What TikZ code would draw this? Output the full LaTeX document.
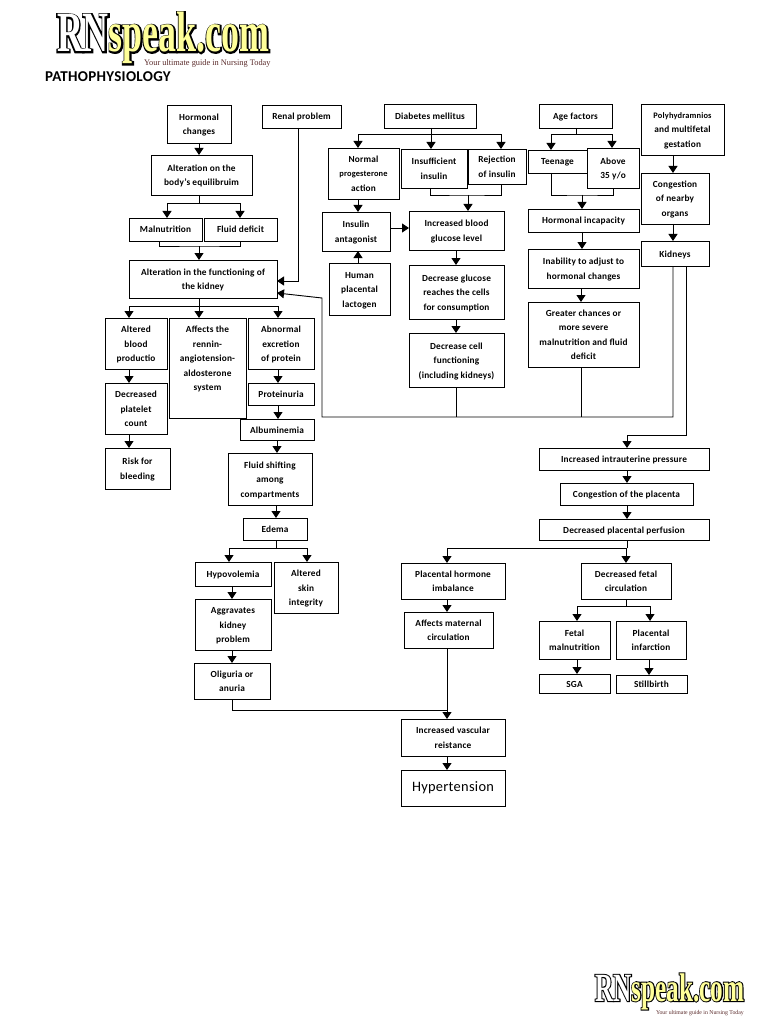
\documentclass[tikz,border=0pt]{standalone}
\usepackage{fontspec}
\setmainfont{Carlito}[LetterSpace=2]
\newfontface\logofill[FakeStretch=0.63]{Liberation Serif Bold}
\newfontface\logorim[FakeStretch=0.63,FakeBold=5]{Liberation Serif Bold}
\newfontface\tagfont[FakeStretch=0.98]{Liberation Serif}
\newcommand{\smalltxt}{\fontsize{8.4}{14.5}\selectfont}
\newcommand{\boxtxt}[1]{\raisebox{-0.6pt}[\height][\depth]{\begin{tabular}{@{}c@{}}#1\end{tabular}}}
\usetikzlibrary{arrows.meta}
\definecolor{logoyellow}{HTML}{FFFF99}
\definecolor{tagred}{HTML}{5A2A2A}
\tikzstyle{box}=[rectangle, draw, line width=0.9pt, anchor=north west
,inner sep=0pt, outer sep=0pt
,font=\fontsize{9.3}{14.5}\selectfont\bfseries
]
\tikzstyle{edge} = [draw,line width=0.9pt,-]
\tikzstyle{arrow} = [draw,line width=0.9pt,-{Triangle[length=7pt,width=9pt]}]
\tikzstyle{logo}=[inner sep=0pt, outer sep=0pt, anchor=base west]
\begin{document}
\begin{tikzpicture}[x=1pt,y=-1pt]
    \useasboundingbox (0,0) rectangle (768,1024);
    % The two logos, a black rim under the fill
    \foreach \name/\xpos/\ypos/\size in {top/57/52/57, bottom/595/1001/40}{
        \node[logo] (\name rn) at (\xpos,\ypos) {\fontsize{\size}{\size}\logorim RNspeak.com};
        \node[logo] (\name fill) at (\xpos,\ypos) {\fontsize{\size}{\size}\logofill\textcolor{white}{RN}\textcolor{logoyellow}{speak.com}};
    }
    \node[logo,text=tagred] (toptag) at (144,66) {\fontsize{8.5}{9}\tagfont Your ultimate guide in Nursing Today};
    \node[logo,text=tagred] (bottomtag) at (656,1014) {\fontsize{5.9}{7}\tagfont Your ultimate guide in Nursing Today};
    \node[logo] (title) at (45,82) {\fontsize{15}{16}\selectfont\bfseries PATHOPHYSIOLOGY};

    % First we draw the boxes: left, top, width, height
    \foreach \xpos/\ypos/\boxw/\boxh/\name/\txt in {
        167/105/64/38/hormonal/{Hormonal\\changes},
        262/105/79/23/renal/{Renal problem},
        151/155/101/40/bodyeq/{Alteration on the\\body's equilibruim},
        129/218/73/23/malnut/{Malnutrition},
        204/218/73/23/fluid/{Fluid deficit},
        129/260/148/38/kidneyfn/{Alteration in the functioning of\\the kidney},
        105/318/62/51/altblood/{Altered\\blood\\productio},
        169/318/77/100/rennin/{Affects the\\rennin-\\angiotension-\\aldosterone\\system\\[5pt]~},
        248/318/66/51/abnormal/{Abnormal\\excretion\\of protein},
        105/383/62/51/platelet/{Decreased\\platelet\\count},
        105/448/65/41/risk/{Risk for\\bleeding},
        248/383/66/22/proteinuria/{Proteinuria},
        240/419/74/21/albuminemia/{Albuminemia},
        228/453/84/52/fluidshift/{Fluid shifting\\among\\compartments},
        243/518/64/22/edema/{Edema},
        195/562/76/24/hypovolemia/{Hypovolemia},
        274/562/64/51/skin/{Altered\\skin\\integrity},
        195/599/76/51/aggravates/{Aggravates\\kidney\\problem},
        194/663/76/36/oliguria/{Oliguria or\\anuria},
        384/104/92/24/diabetes/{Diabetes mellitus},
        328/148/71/51/normalprog/{Normal\\{\smalltxt progesterone}\\action},
        401/149/66/39/insufficient/{Insufficient\\insulin},
        468/149/58/35/rejection/{Rejection\\of insulin},
        322/212/68/39/antagonist/{Insulin\\antagonist},
        329/263/61/52/human/{Human\\placental\\lactogen},
        409/211/95/39/incglucose/{Increased blood\\glucose level},
        409/265/95/54/decglucose/{Decrease glucose\\reaches the cells\\for consumption},
        409/333/95/54/deccell/{Decrease cell\\functioning\\(including kidneys)},
        539/104/73/24/age/{Age factors},
        528/150/59/23/teenage/{Teenage},
        587/148/52/40/above/{Above\\35 y/o},
        528/209/111/23/hormincap/{Hormonal incapacity},
        528/249/111/39/inability/{Inability to adjust to\\hormonal changes},
        528/302/111/65/greater/{Greater chances or\\more severe\\malnutrition and fluid\\deficit},
        641/104/83/51/poly/{{\smalltxt Polyhydramnios}\\and multifetal\\gestation},
        641/173/68/51/congestion/{Congestion\\of nearby\\organs},
        641/241/68/25/kidneys/{Kidneys},
        539/448/170/22/intrauterine/{Increased intrauterine pressure},
        560/483/133/22/congplacenta/{Congestion of the placenta},
        539/519/170/21/perfusion/{Decreased placental perfusion},
        401/563/104/36/plachormone/{Placental hormone\\imbalance},
        581/563/90/36/fetalcirc/{Decreased fetal\\circulation},
        404/612/89/36/maternal/{Affects maternal\\circulation},
        539/621/71/38/fetalmal/{Fetal\\malnutrition},
        616/621/70/38/placinf/{Placental\\infarction},
        539/674/71/19/sga/{SGA},
        616/675/71/18/stillbirth/{Stillbirth},
        401/719/104/37/vascular/{Increased vascular\\reistance},
        401/770/104/36/hypertension/{{\fontsize{14.4}{15}\selectfont\mdseries Hypertension}}}
        \node[box,minimum width=\boxw,minimum height=\boxh] (\name) at (\xpos,\ypos) {\boxtxt{\txt}};

    % Junctions where a line forks or two lines meet
    \foreach \name/\xpos/\ypos in {forkbody/199/203, forkkidney/199/306, forkedema/276/548, forkdiabetes/431/134,
        forkage/576/134, forkperfusion/627/548, forkfetal/626/606,
        mergediet/199/246, mergeinsulin/468/195, mergeage/582/195,
        feedback/322/417, feedtop/322/298, kidneyturn/627/435, vascularjoin/447/710}
        \coordinate (\name) at (\xpos,\ypos);

    % Straight arrows, with the x they run at
    \foreach \xpos/\source/\dest in {199/hormonal/bodyeq, 129/altblood/platelet, 129/platelet/risk,
        278/abnormal/proteinuria, 278/proteinuria/albuminemia, 277/albuminemia/fluidshift, 276/fluidshift/edema,
        232/hypovolemia/aggravates, 232/aggravates/oliguria, 358/normalprog/antagonist,
        456/incglucose/decglucose, 456/decglucose/deccell, 582/hormincap/inability, 581/inability/greater,
        673/poly/congestion, 673/congestion/kidneys, 627/intrauterine/congplacenta, 627/congplacenta/perfusion,
        447/plachormone/maternal, 577/fetalmal/sga, 649/placinf/stillbirth,
        447/maternal/vascular, 447/vascular/hypertension}
        \path[arrow] (\xpos,0 |- \source.south) -- (\xpos,0 |- \dest.north);

    % Forks
    \foreach \fork/\source in {forkbody/bodyeq, forkkidney/kidneyfn, forkedema/edema, forkdiabetes/diabetes,
        forkage/age, forkperfusion/perfusion, forkfetal/fetalcirc}
        \path[edge] (\fork |- \source.south) -- (\fork);
    \foreach \fork/\xpos/\dest in {forkbody/167/malnut, forkbody/240/fluid,
        forkkidney/129/altblood, forkkidney/199/rennin, forkkidney/278/abnormal,
        forkedema/229/hypovolemia, forkedema/307/skin,
        forkdiabetes/358/normalprog, forkdiabetes/431/insufficient, forkdiabetes/501/rejection,
        forkage/551/teenage, forkage/612/above,
        forkperfusion/447/plachormone, forkperfusion/626/fetalcirc,
        forkfetal/577/fetalmal, forkfetal/650/placinf}
        \path[arrow] (\fork) -| (\xpos,0 |- \dest.north);

    % Two boxes into one
    \foreach \merge/\xa/\srca/\xb/\srcb/\dest in {mergediet/159/malnut/240/fluid/kidneyfn,
        mergeinsulin/430/insufficient/501/rejection/incglucose,
        mergeage/551/teenage/613/above/hormincap}{
        \path[edge] (\xa,0 |- \srca.south) |- (\merge) -| (\xb,0 |- \srcb.south);
        \path[arrow] (\merge) -- (\merge |- \dest.north);
    }

    % The long lines
    \path[arrow] (358,0 |- human.north) -- (358,0 |- antagonist.south);
    \path[arrow] (antagonist.east |- 0,228) -- (incglucose.west |- 0,228);
    \path[arrow] (298,0 |- renal.south) |- (kidneyfn.east |- 0,281);
    \path[arrow] (673,0 |- kidneys.south) |- (feedback) -- (feedtop) -- (kidneyfn.east |- 0,293);
    \path[edge] (456,0 |- deccell.south) -- (456,0 |- feedback);
    \path[edge] (581,0 |- greater.south) -- (581,0 |- feedback);
    \path[arrow] (686,0 |- kidneys.south) |- (kidneyturn) -- (kidneyturn |- intrauterine.north);
    \path[edge] (232,0 |- oliguria.south) |- (vascularjoin);
\end{tikzpicture}
\end{document}
